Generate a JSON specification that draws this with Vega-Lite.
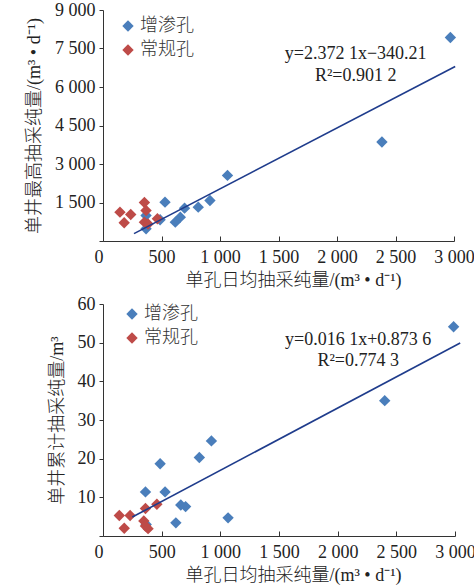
{
  "$schema": "https://vega.github.io/schema/vega-lite/v6.json",
  "padding": {"left": 25, "top": 1, "right": 0, "bottom": 2},
  "spacing": 6,
  "background": "white",
  "datasets": {
    "top": [
      {"x": 368, "y": 995, "type": "增渗孔"},
      {"x": 368, "y": 476, "type": "增渗孔"},
      {"x": 488, "y": 827, "type": "增渗孔"},
      {"x": 530, "y": 1514, "type": "增渗孔"},
      {"x": 618, "y": 734, "type": "增渗孔"},
      {"x": 661, "y": 929, "type": "增渗孔"},
      {"x": 697, "y": 1280, "type": "增渗孔"},
      {"x": 814, "y": 1319, "type": "增渗孔"},
      {"x": 914, "y": 1580, "type": "增渗孔"},
      {"x": 1064, "y": 2556, "type": "增渗孔"},
      {"x": 2384, "y": 3855, "type": "增渗孔"},
      {"x": 2969, "y": 7928, "type": "增渗孔"},
      {"x": 145, "y": 1124, "type": "常规孔"},
      {"x": 237, "y": 1034, "type": "常规孔"},
      {"x": 181, "y": 710, "type": "常规孔"},
      {"x": 354, "y": 1502, "type": "常规孔"},
      {"x": 368, "y": 1190, "type": "常规孔"},
      {"x": 354, "y": 734, "type": "常规孔"},
      {"x": 385, "y": 660, "type": "常规孔"},
      {"x": 465, "y": 865, "type": "常规孔"}
    ],
    "topFit": [
      {"x": 265, "y": 288},
      {"x": 3010, "y": 6800}
    ],
    "topNote": [
      {"x": 2160, "y": 7300, "label": "y=2.372 1x−340.21"},
      {"x": 2160, "y": 6420, "label": "R²=0.901 2"}
    ],
    "bottom": [
      {"x": 362, "y": 11.4, "type": "增渗孔"},
      {"x": 368, "y": 3.0, "type": "增渗孔"},
      {"x": 487, "y": 18.7, "type": "增渗孔"},
      {"x": 529, "y": 11.4, "type": "增渗孔"},
      {"x": 621, "y": 3.4, "type": "增渗孔"},
      {"x": 663, "y": 8.0, "type": "增渗孔"},
      {"x": 704, "y": 7.6, "type": "增渗孔"},
      {"x": 821, "y": 20.3, "type": "增渗孔"},
      {"x": 924, "y": 24.6, "type": "增渗孔"},
      {"x": 1066, "y": 4.7, "type": "增渗孔"},
      {"x": 2401, "y": 35.0, "type": "增渗孔"},
      {"x": 2988, "y": 54.1, "type": "增渗孔"},
      {"x": 139, "y": 5.3, "type": "常规孔"},
      {"x": 231, "y": 5.3, "type": "常规孔"},
      {"x": 181, "y": 2.0, "type": "常规孔"},
      {"x": 362, "y": 7.1, "type": "常规孔"},
      {"x": 459, "y": 8.2, "type": "常规孔"},
      {"x": 348, "y": 3.9, "type": "常规孔"},
      {"x": 362, "y": 2.6, "type": "常规孔"},
      {"x": 384, "y": 1.9, "type": "常规孔"}
    ],
    "bottomFit": [
      {"x": 250, "y": 4.9},
      {"x": 3044, "y": 49.9}
    ],
    "bottomNote": [
      {"x": 2175, "y": 50.8, "label": "y=0.016 1x+0.873 6"},
      {"x": 2175, "y": 45.2, "label": "R²=0.774 3"}
    ]
  },
  "config": {
    "view": {"stroke": null},
    "font": "Liberation Serif, Noto Sans CJK SC",
    "axis": {
      "grid": false,
      "labelOverlap": false,
      "labelFlush": false,
      "labelBound": false,
      "tickCount": 12,
      "domainColor": "#333333",
      "tickColor": "#333333",
      "labelColor": "#222222",
      "titleColor": "#222222",
      "labelFont": "Liberation Serif",
      "labelFontSize": 18,
      "titleFont": "Liberation Serif, Noto Sans CJK SC",
      "titleFontSize": 18,
      "titleFontWeight": 300
    },
    "axisX": {"tickSize": -5, "labelPadding": 12, "titlePadding": 5},
    "axisY": {"tickSize": 4, "labelPadding": 4, "titlePadding": 11},
    "legend": {
      "orient": "none",
      "title": null,
      "labelFont": "Liberation Serif, Noto Sans CJK SC",
      "labelFontWeight": 300,
      "labelFontSize": 18,
      "labelColor": "#333333",
      "labelOffset": 3,
      "symbolType": "diamond",
      "symbolSize": 130,
      "symbolStrokeWidth": 0,
      "rowPadding": 6,
      "padding": 0
    }
  },
  "vconcat": [
    {
      "width": 351,
      "height": 231,
      "layer": [
        {
          "data": {"name": "top"},
          "mark": {"type": "point", "shape": "diamond", "filled": true, "size": 130, "opacity": 1},
          "encoding": {
            "x": {
              "field": "x", "type": "quantitative",
              "scale": {"domain": [0, 3000], "nice": false},
              "axis": {
                "values": [0, 500, 1000, 1500, 2000, 2500, 3000],
                "tickCount": 12,
                "title": "单孔日均抽采纯量/(m³ • d⁻¹)",
                "titleX": 190,
                "labelExpr": "datum.value === 0 ? '0\u2004' : replace(format(datum.value, ','), ',', ' ')",
                "labelAlign": {"condition": {"test": "datum.value === 0", "value": "right"}, "value": "center"}
              }
            },
            "y": {
              "field": "y", "type": "quantitative",
              "scale": {"domain": [0, 9000], "nice": false},
              "axis": {
                "values": [0, 1500, 3000, 4500, 6000, 7500, 9000],
                "tickCount": 12,
                "title": "单井最高抽采纯量/(m³ • d⁻¹)",
                "labelExpr": "datum.value === 0 ? '' : replace(format(datum.value, ','), ',', ' ')"
              }
            },
            "color": {
              "field": "type", "type": "nominal",
              "scale": {"domain": ["增渗孔", "常规孔"], "range": ["#4a7ebb", "#be4b48"]},
              "legend": {"legendX": 16, "legendY": 7}
            }
          }
        },
        {
          "data": {"name": "topFit"},
          "mark": {"type": "line", "color": "#1f3c8c", "strokeWidth": 1.6},
          "encoding": {
            "x": {"field": "x", "type": "quantitative"},
            "y": {"field": "y", "type": "quantitative"}
          }
        },
        {
          "data": {"name": "topNote"},
          "mark": {"type": "text", "font": "Liberation Serif", "fontSize": 18, "color": "#222222", "align": "center", "baseline": "middle"},
          "encoding": {
            "x": {"field": "x", "type": "quantitative"},
            "y": {"field": "y", "type": "quantitative"},
            "text": {"field": "label"}
          }
        }
      ]
    },
    {
      "width": 352,
      "height": 232,
      "layer": [
        {
          "data": {"name": "bottom"},
          "mark": {"type": "point", "shape": "diamond", "filled": true, "size": 130, "opacity": 1},
          "encoding": {
            "x": {
              "field": "x", "type": "quantitative",
              "scale": {"domain": [0, 3000], "nice": false},
              "axis": {
                "values": [0, 500, 1000, 1500, 2000, 2500, 3000],
                "tickCount": 12,
                "title": "单孔日均抽采纯量/(m³ • d⁻¹)",
                "titleX": 190,
                "labelExpr": "datum.value === 0 ? '0\u2004' : replace(format(datum.value, ','), ',', ' ')",
                "labelAlign": {"condition": {"test": "datum.value === 0", "value": "right"}, "value": "center"}
              }
            },
            "y": {
              "field": "y", "type": "quantitative",
              "scale": {"domain": [0, 60], "nice": false},
              "axis": {
                "values": [0, 10, 20, 30, 40, 50, 60],
                "tickCount": 12,
                "title": "单井累计抽采纯量/m³",
                "labelExpr": "datum.value === 0 ? '' : datum.label"
              }
            },
            "color": {
              "field": "type", "type": "nominal",
              "scale": {"domain": ["增渗孔", "常规孔"], "range": ["#4a7ebb", "#be4b48"]},
              "legend": {"legendX": 20, "legendY": 1}
            }
          }
        },
        {
          "data": {"name": "bottomFit"},
          "mark": {"type": "line", "color": "#1f3c8c", "strokeWidth": 1.6},
          "encoding": {
            "x": {"field": "x", "type": "quantitative"},
            "y": {"field": "y", "type": "quantitative"}
          }
        },
        {
          "data": {"name": "bottomNote"},
          "mark": {"type": "text", "font": "Liberation Serif", "fontSize": 18, "color": "#222222", "align": "center", "baseline": "middle"},
          "encoding": {
            "x": {"field": "x", "type": "quantitative"},
            "y": {"field": "y", "type": "quantitative"},
            "text": {"field": "label"}
          }
        }
      ]
    }
  ],
  "resolve": {"legend": {"color": "independent"}}
}
